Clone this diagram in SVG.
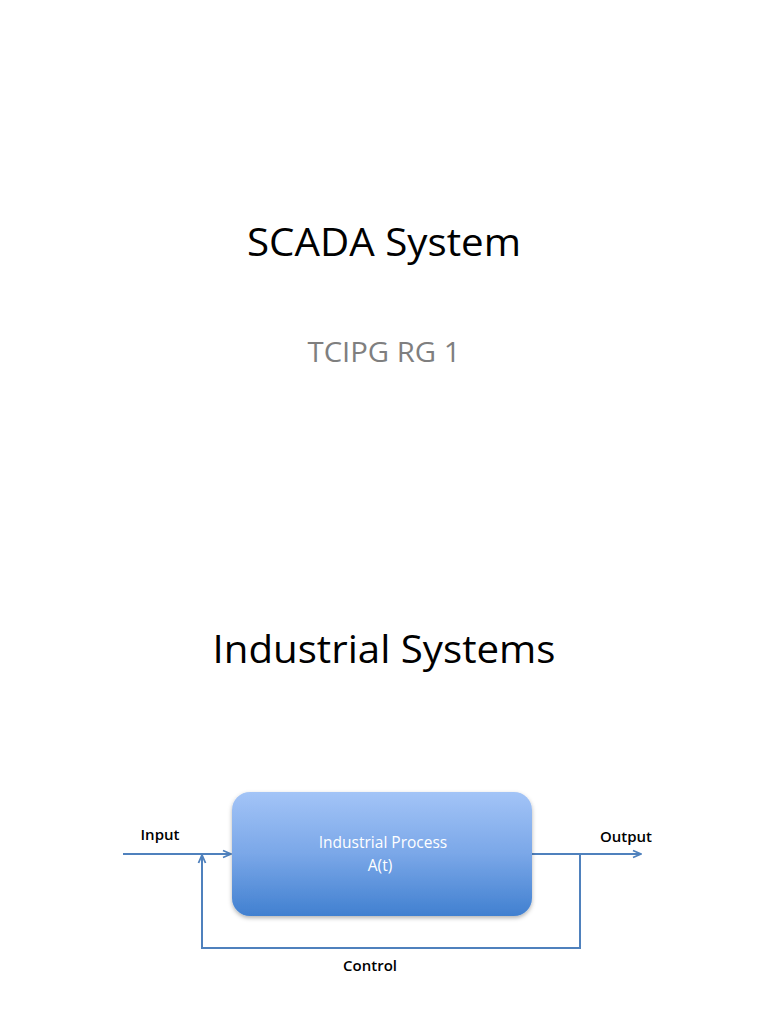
<svg xmlns="http://www.w3.org/2000/svg" width="768" height="1024" viewBox="0 0 768 1024">
<style>
.t{font-family:"Open Sans","Noto Sans","Liberation Sans",sans-serif;}
.lbl{font-family:"Open Sans","Noto Sans","Liberation Sans",sans-serif;font-size:15px;fill:#000;font-weight:600;}
.conn{stroke:#4f81bd;stroke-width:2;fill:none;}
</style>
<defs>
<linearGradient id="g" x1="0" y1="0" x2="0" y2="1">
<stop offset="0" stop-color="#a3c4f7"/>
<stop offset="0.5" stop-color="#7aa7e8"/>
<stop offset="1" stop-color="#4180d0"/>
</linearGradient>
<filter id="sh" x="-10%" y="-10%" width="120%" height="130%">
<feDropShadow dx="0" dy="2" stdDeviation="2" flood-color="#000" flood-opacity="0.3"/>
</filter>
<marker id="ar" viewBox="0 0 10 10" refX="9" refY="5" markerWidth="10" markerHeight="10" orient="auto" markerUnits="userSpaceOnUse">
<path d="M1,1.5 L9,5 L1,8.5" fill="none" stroke="#4f81bd" stroke-width="1.8"/>
</marker>
</defs>
<rect width="768" height="1024" fill="#fff"/>
<text class="t" x="384" y="256" font-size="38" text-anchor="middle" textLength="274" lengthAdjust="spacingAndGlyphs" fill="#000">SCADA System</text>
<text class="t" x="384" y="362" font-size="27" text-anchor="middle" textLength="153" lengthAdjust="spacingAndGlyphs" fill="#7f7f7f">TCIPG RG 1</text>
<text class="t" x="384" y="663" font-size="38" text-anchor="middle" textLength="343" lengthAdjust="spacingAndGlyphs" fill="#000">Industrial Systems</text>
<g id="connectors">
<line class="conn" x1="123" y1="854" x2="231" y2="854" marker-end="url(#ar)"/>
<line class="conn" x1="532" y1="854" x2="641" y2="854" marker-end="url(#ar)"/>
<polyline class="conn" points="580,854 580,948 202,948 202,855" marker-end="url(#ar)"/>
</g>
<g id="process">
<rect x="232" y="792" width="300" height="124" rx="18" fill="url(#g)" filter="url(#sh)"/>
<text class="t" x="383" y="848" font-size="15.5" text-anchor="middle" fill="#fff">Industrial Process</text>
<text class="t" x="380" y="871" font-size="15.5" text-anchor="middle" fill="#fff">A(t)</text>
</g>
<g id="labels">
<text class="lbl" x="160" y="840" text-anchor="middle">Input</text>
<text class="lbl" x="626" y="842" text-anchor="middle">Output</text>
<text class="lbl" x="370" y="971" text-anchor="middle">Control</text>
</g>
</svg>
